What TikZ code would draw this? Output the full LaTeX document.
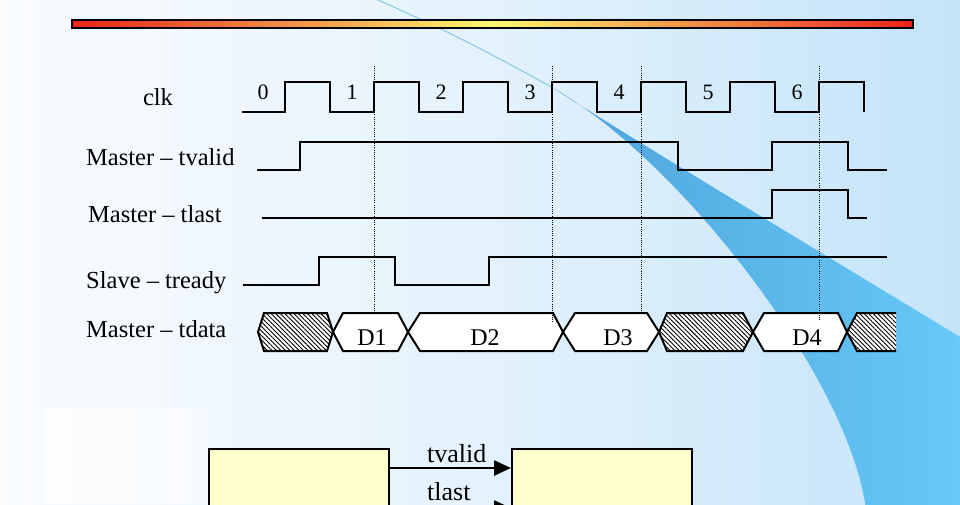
\documentclass[tikz,border=0pt]{standalone}
\usepackage{fontspec}
\setmainfont{Liberation Serif}
\usetikzlibrary{arrows.meta,patterns.meta,calc}
\definecolor{bgL}{HTML}{FAFCFE}
\definecolor{bgM}{HTML}{E4F2FC}
\definecolor{bgR}{HTML}{C4E4F9}
\definecolor{wedgeA}{HTML}{4FA3DA}
\definecolor{wedgeB}{HTML}{66C9F8}
\definecolor{swoosh}{HTML}{86C8DE}
\definecolor{barRed}{HTML}{E8231A}
\definecolor{barYel}{HTML}{FBF76E}
\definecolor{boxY}{HTML}{FFFFCC}
\begin{document}
\begin{tikzpicture}[x=1pt,y=-1pt,
  wave/.style={line width=2pt, line join=miter},
  dotl/.style={line width=0.9pt, dash pattern=on 1pt off 1.2pt},
  lbl/.style={font=\fontsize{24.5}{28}\selectfont, anchor=base west, inner sep=0pt},
  num/.style={font=\fontsize{22}{26}\selectfont, anchor=base, inner sep=0pt},
  dlab/.style={font=\fontsize{24}{28}\selectfont, anchor=base, inner sep=0pt},
  sglab/.style={font=\fontsize{26}{30}\selectfont, anchor=base west, inner sep=0pt},
  bus/.style={line width=2pt, line join=miter},
  hatch/.style={preaction={fill=white}, pattern={Lines[angle=-45,distance=3.2pt,line width=0.9pt]}},
  blk/.style={draw=black, line width=2pt, fill=boxY, minimum width=180pt, minimum height=140pt, anchor=north west, inner sep=0pt},
  sig/.style={-{Triangle[length=17pt,width=15pt]}, line width=2.5pt},
]
\useasboundingbox (0,0) rectangle (960,504);
\clip (0,0) rectangle (960,504);
% background
\shade[left color=bgL, right color=bgR, middle color=bgM] (0,0) rectangle (960,504);
\fill[white, opacity=0.55] (45,408) rectangle (207,504);
% swoosh line and wedge
\draw[swoosh, line width=1pt] (373,-2) .. controls (430,22) and (500,58) .. (553,88);
\shade[left color=wedgeA, right color=wedgeB]
  (553,88) .. controls (650,150) and (850,270) .. (960,337)
  -- (960,510) -- (866,510)
  .. controls (850,380) and (680,160) .. (553,88) -- cycle;
% title bar
\shade[left color=barRed, right color=barRed, middle color=barYel] (72,20) rectangle (913,28);
\draw[black, line width=1.2pt] (72,20) rectangle (913,28);
% signal names
\node[font=\fontsize{24.5}{28}\selectfont, anchor=base, inner sep=0pt] (nclk) at (158,105) {clk};
\node[lbl] (ntvalid) at (86,165) {Master -- tvalid};
\node[lbl] (ntlast) at (88,222) {Master -- tlast};
\node[lbl] (ntready) at (86,288) {Slave -- tready};
\node[lbl] (ntdata) at (86,337) {Master -- tdata};
% clock numbers
\foreach \n/\x in {0/263,1/352,2/441,3/530,4/619,5/708,6/797}
  \node[num] (c\n) at (\x,99) {\n};
% clock
\draw[wave] (242,112) -- (285,112) -- (285,82) -- (330,82) -- (330,112) -- (374,112) -- (374,82)
  -- (419,82) -- (419,112) -- (463,112) -- (463,82) -- (508,82) -- (508,112) -- (552,112) -- (552,82)
  -- (597,82) -- (597,112) -- (641,112) -- (641,82) -- (686,82) -- (686,112) -- (730,112) -- (730,82)
  -- (775,82) -- (775,112) -- (819,112) -- (819,82) -- (864,82) -- (864,112);
% tvalid
\draw[wave] (257,170) -- (300,170) -- (300,142) -- (678,142) -- (678,170) -- (772,170) -- (772,142)
  -- (848,142) -- (848,170) -- (887,170);
% tlast
\draw[wave] (262,218) -- (772,218) -- (772,190) -- (848,190) -- (848,218) -- (867,218);
% tready
\draw[wave] (243,285) -- (319,285) -- (319,257) -- (395,257) -- (395,285) -- (489,285) -- (489,257) -- (887,257);
% data bus
\foreach \a/\b/\c/\d in {258/264/327/333, 659/667/743/753}
  \draw[bus, hatch] (\a,332) -- (\b,313) -- (\c,313) -- (\d,332) -- (\c,351) -- (\b,351) -- cycle;
\foreach \a/\b/\c/\d in {333/343/398/408, 408/420/553/563, 563/575/647/659, 753/764/838/847}
  \draw[bus, fill=white] (\a,332) -- (\b,313) -- (\c,313) -- (\d,332) -- (\c,351) -- (\b,351) -- cycle;
\fill[hatch] (847,332) -- (857,313) -- (896,313) -- (896,351) -- (857,351) -- cycle;
\draw[bus] (896,313) -- (857,313) -- (847,332) -- (857,351) -- (896,351);
\node[dlab] (d1) at (372,345) {D1};
\node[dlab] (d2) at (485,345) {D2};
\node[dlab] (d3) at (618,345) {D3};
\node[dlab] (d4) at (807,345) {D4};
% dotted markers
\draw[dotl] (374,66) -- (374,312);
\draw[dotl] (552,66) -- (552,323);
\draw[dotl] (641,66) -- (641,312);
\draw[dotl] (819,66) -- (819,320);
% block diagram
\node[blk] (master) at (208,448) {};
\node[blk] (slave) at (511,448) {};
\coordinate (a1) at ($(master.north east)+(0,20)$);
\coordinate (a2) at ($(master.north east)+(0,60)$);
\draw[sig] (a1) -- (a1 -| slave.west);
\draw[sig] (a2) -- (a2 -| slave.west);
\node[sglab] (ltvalid) at (427,462) {tvalid};
\node[sglab] (ltlast) at (427,500) {tlast};
\end{tikzpicture}
\end{document}
